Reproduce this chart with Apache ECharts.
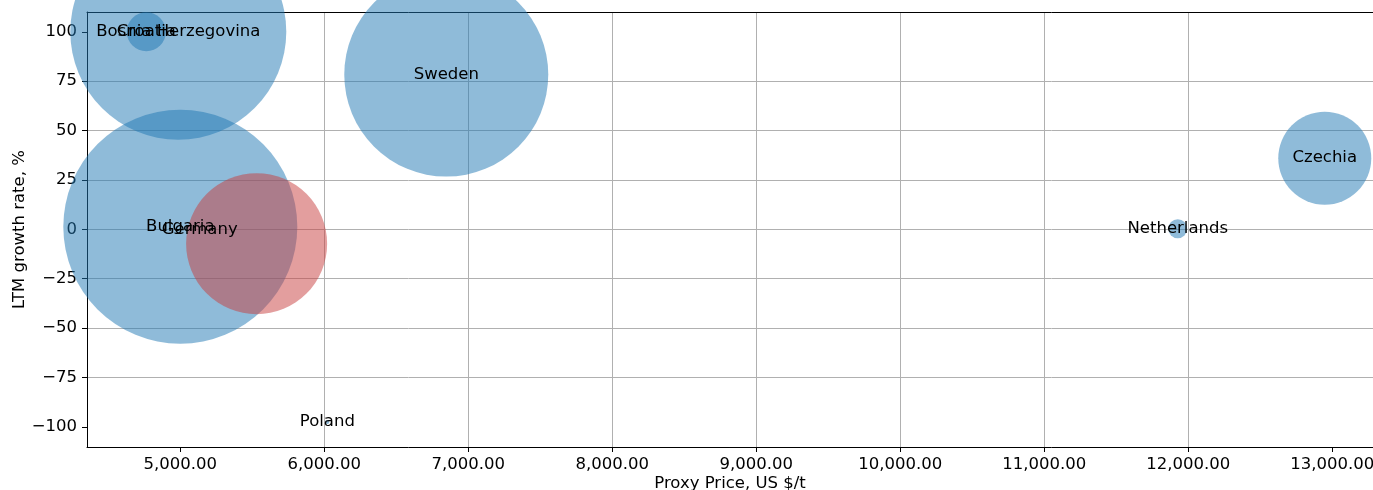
<!DOCTYPE html>
<html>
<head>
<meta charset="utf-8">
<title>Proxy price vs LTM growth</title>
<script src="https://cdn.jsdelivr.net/npm/echarts@6/dist/echarts.min.js"></script>
<style>
  html, body { margin: 0; padding: 0; background: #fff; }
  #chart { width: 1373px; height: 490px; }
</style>
</head>
<body>
<div id="chart"></div>
<script>
// data
const countries = ['Bosnia Herzegovina', 'Croatia', 'Bulgaria', 'Germany', 'Sweden', 'Poland', 'Netherlands', 'Czechia']
const proxyPrice = [4986, 4764, 5000, 5135, 6847, 6021, 11927, 12948]
const growthRate = [100, 100, 1.3, 0, 78.3, -97.6, 0.3, 36.0]
const bubbleSize = [216, 39, 234, 2, 204, 4, 19, 93]

// highlighted bubble (no label)
const highlightPrice = [5530]
const highlightGrowth = [-7.3]
const highlightSize = [141]

const xTicks = [5000, 6000, 7000, 8000, 9000, 10000, 11000, 12000, 13000]
const yTicks = [-100, -75, -50, -25, 0, 25, 50, 75, 100]

const font = 'DejaVu Sans'

const chart = echarts.init(document.getElementById('chart'))

const fmtPrice = v => v.toLocaleString('en-US', { minimumFractionDigits: 2, maximumFractionDigits: 2 })
const fmtRate = v => String(v).replace('-', '\u2212')

const mainData = countries.map((c, i) => ({
  name: c,
  value: [proxyPrice[i], growthRate[i]],
  symbolSize: bubbleSize[i]
}))
const redData = highlightPrice.map((p, i) => ({
  value: [p, highlightGrowth[i]],
  symbolSize: highlightSize[i]
}))

const option = {
  animation: false,
  grid: { left: 87, right: 0, top: 12, bottom: 43, containLabel: false, outerBoundsMode: 'none' },
  xAxis: [{
    type: 'value',
    min: 4352,
    max: 13283,
    minInterval: 1000,
    maxInterval: 1000,
    name: 'Proxy Price, US $/t',
    nameLocation: 'middle',
    nameGap: 28,
    nameMoveOverlap: false,
    nameTextStyle: { color: '#000', fontFamily: font, fontSize: 16.5 },
    axisLine: { show: true, onZero: false, lineStyle: { color: '#000', width: 1 } },
    axisTick: { show: true, length: 5, customValues: xTicks, lineStyle: { color: '#000' } },
    axisLabel: {
      customValues: xTicks,
      color: '#000', fontFamily: font, fontSize: 16.5, margin: 9,
      formatter: fmtPrice
    },
    splitLine: { show: true, showMinLine: false, showMaxLine: false, lineStyle: { color: '#b0b0b0', width: 1 } }
  }, {
    // top spine
    type: 'value',
    position: 'top',
    min: 4352,
    max: 13283,
    axisLine: { show: true, onZero: false, lineStyle: { color: '#000', width: 1 } },
    axisTick: { show: false },
    axisLabel: { show: false },
    splitLine: { show: false }
  }],
  yAxis: {
    type: 'value',
    min: -110.2,
    max: 110,
    minInterval: 25,
    maxInterval: 25,
    name: 'LTM growth rate, %',
    nameLocation: 'middle',
    nameGap: 59,
    nameMoveOverlap: false,
    nameTextStyle: { color: '#000', fontFamily: font, fontSize: 16.5 },
    axisLine: { show: true, onZero: false, lineStyle: { color: '#000', width: 1 } },
    axisTick: { show: true, length: 5, customValues: yTicks, lineStyle: { color: '#000' } },
    axisLabel: {
      customValues: yTicks,
      color: '#000', fontFamily: font, fontSize: 16.5, margin: 10,
      formatter: fmtRate
    },
    splitLine: { show: true, showMinLine: false, showMaxLine: false, lineStyle: { color: '#b0b0b0', width: 1 } }
  },
  series: [{
    type: 'scatter',
    xAxisIndex: 0,
    data: mainData,
    itemStyle: { color: 'rgba(31,119,180,0.5)', opacity: 1 },
    label: {
      show: true,
      position: 'inside',
      formatter: p => p.name,
      color: '#000',
      opacity: 1,
      fontFamily: font,
      fontSize: 16.5
    },
    emphasis: { disabled: true }
  }, {
    type: 'scatter',
    xAxisIndex: 0,
    data: redData,
    itemStyle: { color: 'rgba(200,62,62,0.5)', opacity: 1 },
    emphasis: { disabled: true }
  }]
}

chart.setOption(option)
</script>
</body>
</html>
